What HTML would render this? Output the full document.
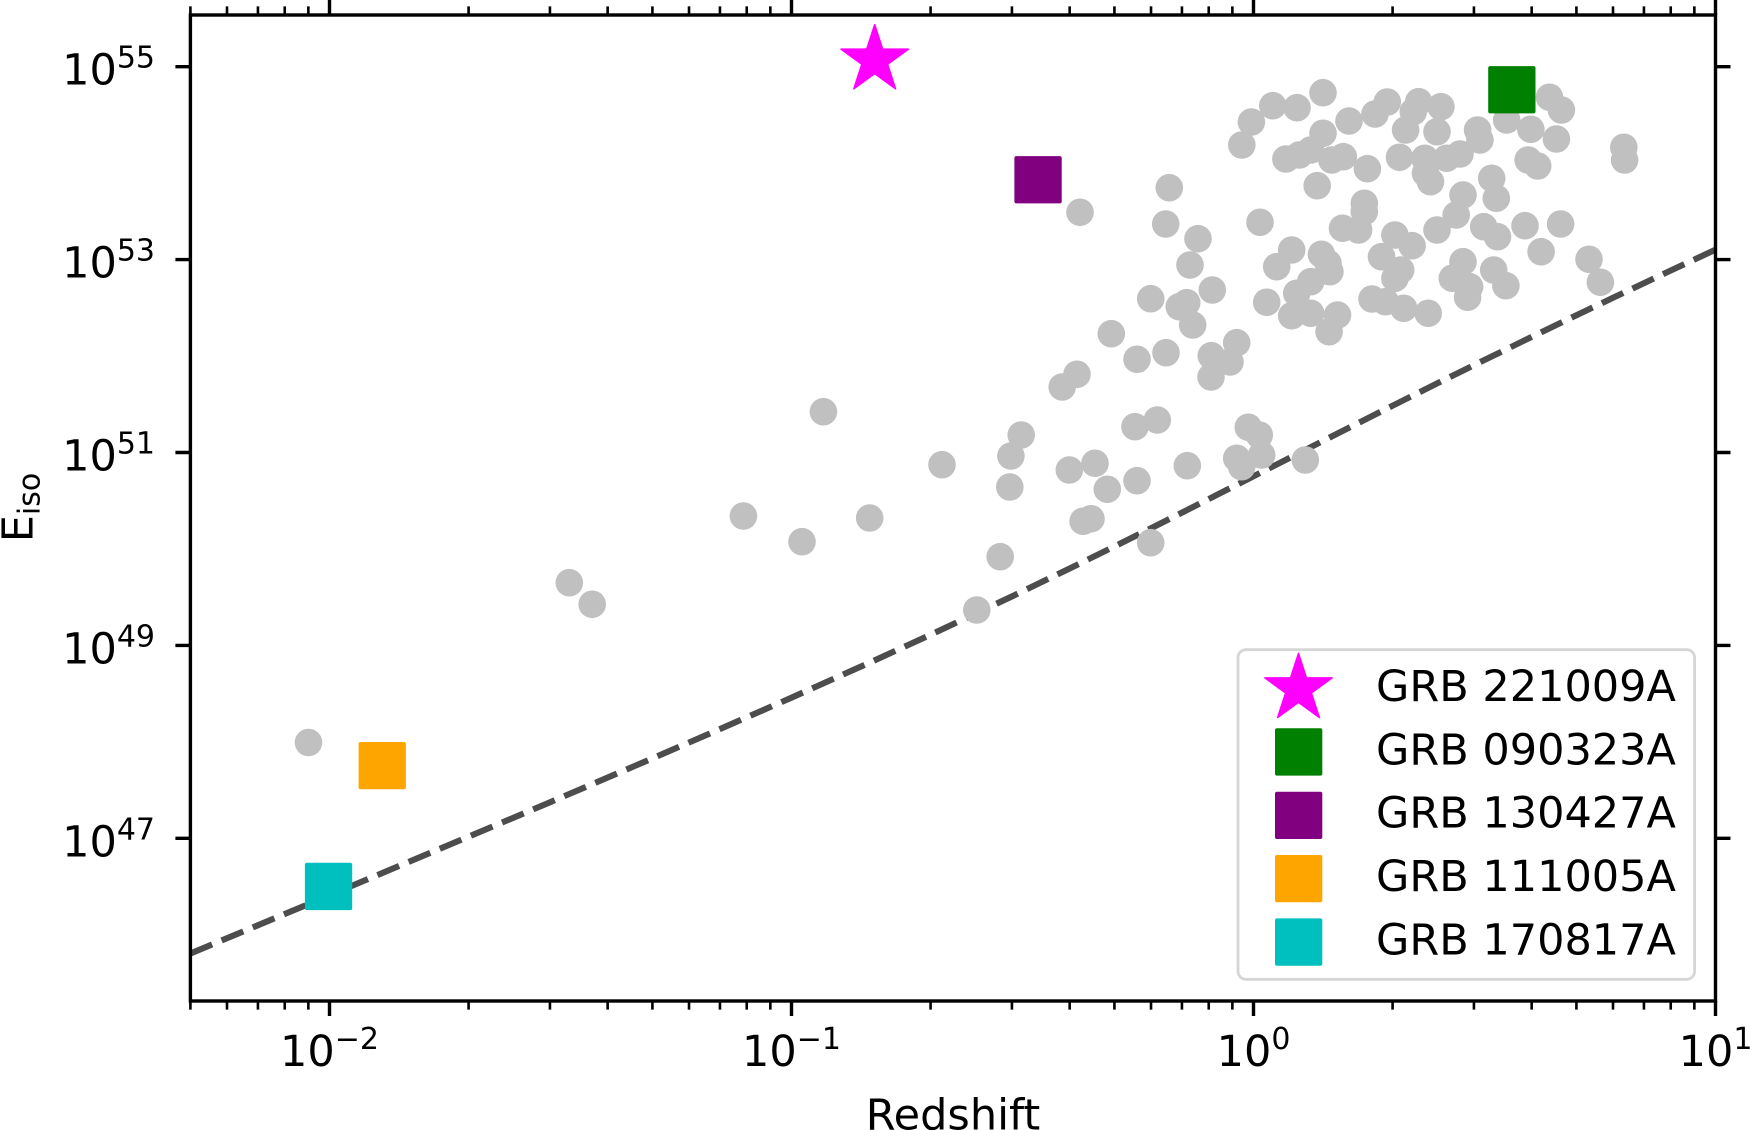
<!DOCTYPE html>
<html>
<head>
<meta charset="utf-8">
<style>
html,body{margin:0;padding:0;background:#fff;}
svg{display:block;}
text{font-family:"DejaVu Sans","Liberation Sans",sans-serif;fill:#000;}
</style>
</head>
<body>
<svg width="1750" height="1130" viewBox="0 0 1750 1130" xmlns="http://www.w3.org/2000/svg">
<defs>
<clipPath id="pa"><rect x="190.4" y="15" width="1525.1" height="986"/></clipPath>
<marker id="dot" markerUnits="userSpaceOnUse" markerWidth="30" markerHeight="30" refX="15" refY="15" viewBox="0 0 30 30" overflow="visible">
<circle cx="15" cy="15" r="13.8" fill="#c0c0c0"/>
</marker>
</defs>
<rect x="0" y="0" width="1750" height="1130" fill="#fff"/>

<path clip-path="url(#pa)" fill="none" stroke="#4d4d4d" stroke-width="6.1" stroke-dasharray="23.5 10.3"
d="M190.42,953.5 L257.94,925.25 L329.5,895.25 L468.58,836.73 L549.93,802.26 L652.42,758.39 L719.94,729.09 L791.5,697.67 L872.85,661.17 L930.58,634.70 L1011.93,596.44 L1069.65,568.52 L1114.42,546.47 L1151.01,528.22 L1181.94,512.64 L1253.5,476.29 L1334.85,434.87 L1392.58,405.69 L1437.35,383.29 L1473.93,365.16 L1531.65,336.91 L1576.42,315.28 L1613.0,297.80 L1670.73,270.52 L1715.5,249.68"/>

<polyline fill="none" stroke="none" marker-start="url(#dot)" marker-mid="url(#dot)" marker-end="url(#dot)"
points="308.5,742.5 569.3,582.7 592.2,604.3 743.4,516 802,541.7 823.4,411.7 869.7,518 942,464.7 976.8,610 1000.2,556.7 1009.8,487 1010.9,456 1021.2,435 1062.2,387 1077,374.3 1083.1,521.3 1091,518.8 1069.3,470 1095,463.3 1107.3,489.3 1137,480.7 1135,426.7 1157.3,420 1187.3,465.7 1248.3,427.3 1259.3,435 1236.7,458.3 1241.7,466.7 1261.7,455 1305.3,460 1150.7,542.7 1080,212.3 1169.3,187.7 1165.7,224 1260,222.3 1198,238.7 1190,265 1291.7,250 1276.7,266.7 1150.7,298.7 1179.3,306.7 1186.7,302.7 1212.3,290 1192.7,325 1266.7,302.3 1291.7,315.7 1296.7,293.3 1111.3,333.7 1137,359.3 1166,352.7 1211.3,355.7 1236.7,342.7 1230,362 1211,377 1323,92.7 1272.8,105.7 1297,107.7 1251.4,122 1241.8,145 1387.3,102 1418.7,101.7 1375,114 1440.9,106.7 1413.3,111.7 1349,121 1323,133.3 1405.6,130 1437,131.7 1477.6,130 1479.9,140 1506.7,120 1530.8,129.3 1549.5,97.3 1561.4,110 1556.4,139 1623.8,147.3 1624.6,160 1285.9,159 1299.3,155 1310.7,150 1331.8,160 1343.3,156.7 1367.4,168.7 1399.5,157.3 1424.8,158.3 1446.6,158.3 1460,154 1425.5,173.3 1430.5,181.7 1528.1,160 1537.7,166 1317.2,185.7 1364.3,203.3 1364.3,211.7 1342.5,228.3 1358.6,230 1463,195 1456.2,215 1491.7,178.3 1496.3,198.3 1437,230 1483.7,226.7 1497.5,236.7 1525,225.7 1560.6,224 1394.9,235 1412.1,245.7 1381.5,256.7 1400.7,270 1394.9,278.3 1541.1,251.7 1589,259.3 1600.4,282.3 1463,261.7 1493.7,270 1505.9,285.7 1452.3,278.3 1469.6,286.7 1467.6,297.3 1321.4,254.3 1328,263.3 1329.9,271.7 1310.7,281.7 1310.7,313.3 1337.5,315 1329.1,331.7 1372,299 1385.4,301.7 1403.7,308.3 1428.2,313.3"/>

<rect x="1488.2" y="66.1" width="47.3" height="47.3" rx="2" fill="#008000"/>
<rect x="1014.4" y="156.1" width="47.3" height="47.3" rx="2" fill="#800080"/>
<rect x="358.6" y="742.0" width="47.3" height="47.3" rx="2" fill="#ffa500"/>
<rect x="304.9" y="862.8" width="47.3" height="47.3" rx="2" fill="#00bfbf"/>
<path fill="#ff00ff" stroke="#ff00ff" stroke-width="1.5" stroke-linejoin="round"
d="M874.7,24.6 L866.73,49.13 L840.94,49.13 L861.80,64.29 L853.83,88.82 L874.7,73.66 L895.57,88.82 L887.60,64.29 L908.46,49.13 L882.67,49.13 Z"/>

<rect x="190.4" y="15" width="1525.1" height="986" fill="none" stroke="#000" stroke-width="3.4"/>

<path stroke="#000" stroke-width="3.4" fill="none"
d="M329.5,1001v15 M791.5,1001v15 M1253.5,1001v15 M1715.5,1001v15 M329.5,15v-15 M791.5,15v-15 M1253.5,15v-15 M1715.5,15v-15 M175.4,66.7h15 M175.4,259.6h15 M175.4,452.5h15 M175.4,645.4h15 M175.4,838.3h15 M1715.5,66.7h15 M1715.5,259.6h15 M1715.5,452.5h15 M1715.5,645.4h15 M1715.5,838.3h15"/>

<path stroke="#000" stroke-width="2.6" fill="none"
d="M190.42,1001v8.6 M227.01,1001v8.6 M257.94,1001v8.6 M284.73,1001v8.6 M308.36,1001v8.6 M468.58,1001v8.6 M549.93,1001v8.6 M607.65,1001v8.6 M652.42,1001v8.6 M689.01,1001v8.6 M719.94,1001v8.6 M746.73,1001v8.6 M770.36,1001v8.6 M930.58,1001v8.6 M1011.93,1001v8.6 M1069.65,1001v8.6 M1114.42,1001v8.6 M1151.01,1001v8.6 M1181.94,1001v8.6 M1208.73,1001v8.6 M1232.36,1001v8.6 M1392.58,1001v8.6 M1473.93,1001v8.6 M1531.65,1001v8.6 M1576.42,1001v8.6 M1613.01,1001v8.6 M1643.94,1001v8.6 M1670.73,1001v8.6 M1694.36,1001v8.6 M190.42,15v-8.6 M227.01,15v-8.6 M257.94,15v-8.6 M284.73,15v-8.6 M308.36,15v-8.6 M468.58,15v-8.6 M549.93,15v-8.6 M607.65,15v-8.6 M652.42,15v-8.6 M689.01,15v-8.6 M719.94,15v-8.6 M746.73,15v-8.6 M770.36,15v-8.6 M930.58,15v-8.6 M1011.93,15v-8.6 M1069.65,15v-8.6 M1114.42,15v-8.6 M1151.01,15v-8.6 M1181.94,15v-8.6 M1208.73,15v-8.6 M1232.36,15v-8.6 M1392.58,15v-8.6 M1473.93,15v-8.6 M1531.65,15v-8.6 M1576.42,15v-8.6 M1613.01,15v-8.6 M1643.94,15v-8.6 M1670.73,15v-8.6 M1694.36,15v-8.6"/>

<g font-size="43" text-anchor="end">
<text x="155" y="84.7">10<tspan font-size="30" dy="-17">55</tspan></text>
<text x="155" y="277.6">10<tspan font-size="30" dy="-17">53</tspan></text>
<text x="155" y="470.5">10<tspan font-size="30" dy="-17">51</tspan></text>
<text x="155" y="663.4">10<tspan font-size="30" dy="-17">49</tspan></text>
<text x="155" y="856.3">10<tspan font-size="30" dy="-17">47</tspan></text>
</g>

<g font-size="43" text-anchor="middle">
<text x="329.5" y="1066">10<tspan font-size="30" dy="-17">−2</tspan></text>
<text x="791.5" y="1066">10<tspan font-size="30" dy="-17">−1</tspan></text>
<text x="1253.5" y="1066">10<tspan font-size="30" dy="-17">0</tspan></text>
<text x="1715.5" y="1066">10<tspan font-size="30" dy="-17">1</tspan></text>
</g>

<text x="953" y="1129.5" font-size="43" text-anchor="middle">Redshift</text>
<text transform="translate(32.5,507.5) rotate(-90)" font-size="43" text-anchor="middle">E<tspan font-size="30" dy="7">iso</tspan></text>

<rect x="1238" y="649.7" width="456.6" height="329.6" rx="8" ry="8" fill="#fff" fill-opacity="0.8" stroke="#d6d6d6" stroke-width="2.8"/>
<path fill="#ff00ff" stroke="#ff00ff" stroke-width="1.5" stroke-linejoin="round"
d="M1298.5,653.3 L1290.53,677.83 L1264.74,677.83 L1285.6,692.99 L1277.63,717.52 L1298.5,702.36 L1319.37,717.52 L1311.4,692.99 L1332.26,677.83 L1306.47,677.83 Z"/>
<rect x="1275" y="728.3" width="47.3" height="47.3" rx="2" fill="#008000"/>
<rect x="1275" y="791.7" width="47.3" height="47.3" rx="2" fill="#800080"/>
<rect x="1275" y="855.0" width="47.3" height="47.3" rx="2" fill="#ffa500"/>
<rect x="1275" y="918.4" width="47.3" height="47.3" rx="2" fill="#00bfbf"/>
<g font-size="43">
<text x="1376" y="701">GRB 221009A</text>
<text x="1376" y="764.3">GRB 090323A</text>
<text x="1376" y="827.7">GRB 130427A</text>
<text x="1376" y="891">GRB 111005A</text>
<text x="1376" y="954.3">GRB 170817A</text>
</g>
</svg>
</body>
</html>
